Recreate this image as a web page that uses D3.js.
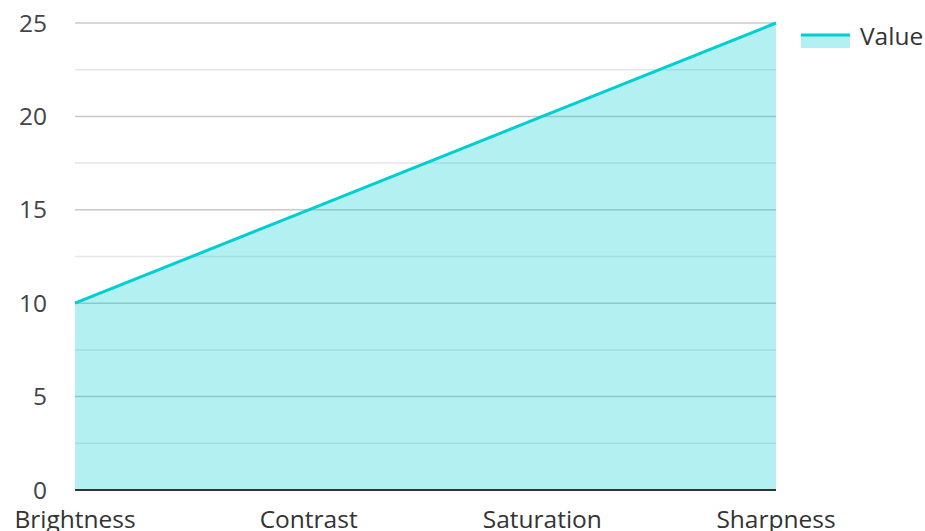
<!DOCTYPE html>
<html><head><meta charset="utf-8">
<script src="https://cdn.jsdelivr.net/npm/d3@7"></script>
<style>body{margin:0;background:#fff}svg{display:block;font-family:"Open Sans",sans-serif}</style>
</head><body>
<svg id="c" width="925" height="531"></svg>
<script>
const categories = ["Brightness","Contrast","Saturation","Sharpness"];
const values = [10,15,20,25];
const yTicks = [0,5,10,15,20,25];
const minorTicks = [2.5,7.5,12.5,17.5,22.5];
const seriesName = "Value";
const color = "#00CED1";

const svg = d3.select("#c");
const L=75, R=776, T=23, B=490;
const FS=24.5;
const x = d3.scalePoint().domain(categories).range([L,R]);
const y = d3.scaleLinear().domain([0,25]).range([B,T]);

svg.append("g").selectAll("line").data(minorTicks).join("line")
  .attr("x1",L).attr("x2",R).attr("y1",d=>y(d)).attr("y2",d=>y(d))
  .attr("stroke","#e6e6e6").attr("stroke-width",1.5);
svg.append("g").selectAll("line").data(yTicks.filter(d=>d>0)).join("line")
  .attr("x1",L).attr("x2",R).attr("y1",d=>y(d)).attr("y2",d=>y(d))
  .attr("stroke","#c8c8c8").attr("stroke-width",1.5);

const data = categories.map((c,i)=>({c,v:values[i]}));
svg.append("path").datum(data)
  .attr("d", d3.area().x(d=>x(d.c)).y0(y(0)).y1(d=>y(d.v)))
  .attr("fill",color).attr("fill-opacity",0.3);
svg.append("path").datum(data)
  .attr("d", d3.line().x(d=>x(d.c)).y(d=>y(d.v)))
  .attr("fill","none").attr("stroke",color).attr("stroke-width",3);

svg.append("line").attr("x1",L).attr("x2",R).attr("y1",y(0)).attr("y2",y(0))
  .attr("stroke","#333").attr("stroke-width",2);

svg.append("g").selectAll("text").data(yTicks).join("text")
  .attr("x",47).attr("y",d=>y(d)).attr("dy","0.35em").attr("text-anchor","end")
  .attr("font-size",FS).attr("fill","#444").text(d=>d);

svg.append("g").selectAll("text").data(categories).join("text")
  .attr("x",d=>x(d)).attr("y",528).attr("text-anchor","middle")
  .attr("font-size",FS).attr("fill","#333").text(d=>d);

const lg = svg.append("g");
lg.append("rect").attr("x",801).attr("y",35).attr("width",49).attr("height",13)
  .attr("fill",color).attr("fill-opacity",0.3);
lg.append("line").attr("x1",801).attr("x2",850).attr("y1",35).attr("y2",35)
  .attr("stroke",color).attr("stroke-width",3);
lg.append("text").attr("x",860).attr("y",36).attr("dy","0.35em")
  .attr("font-size",FS).attr("fill","#333").text(seriesName);
</script>
</body></html>
